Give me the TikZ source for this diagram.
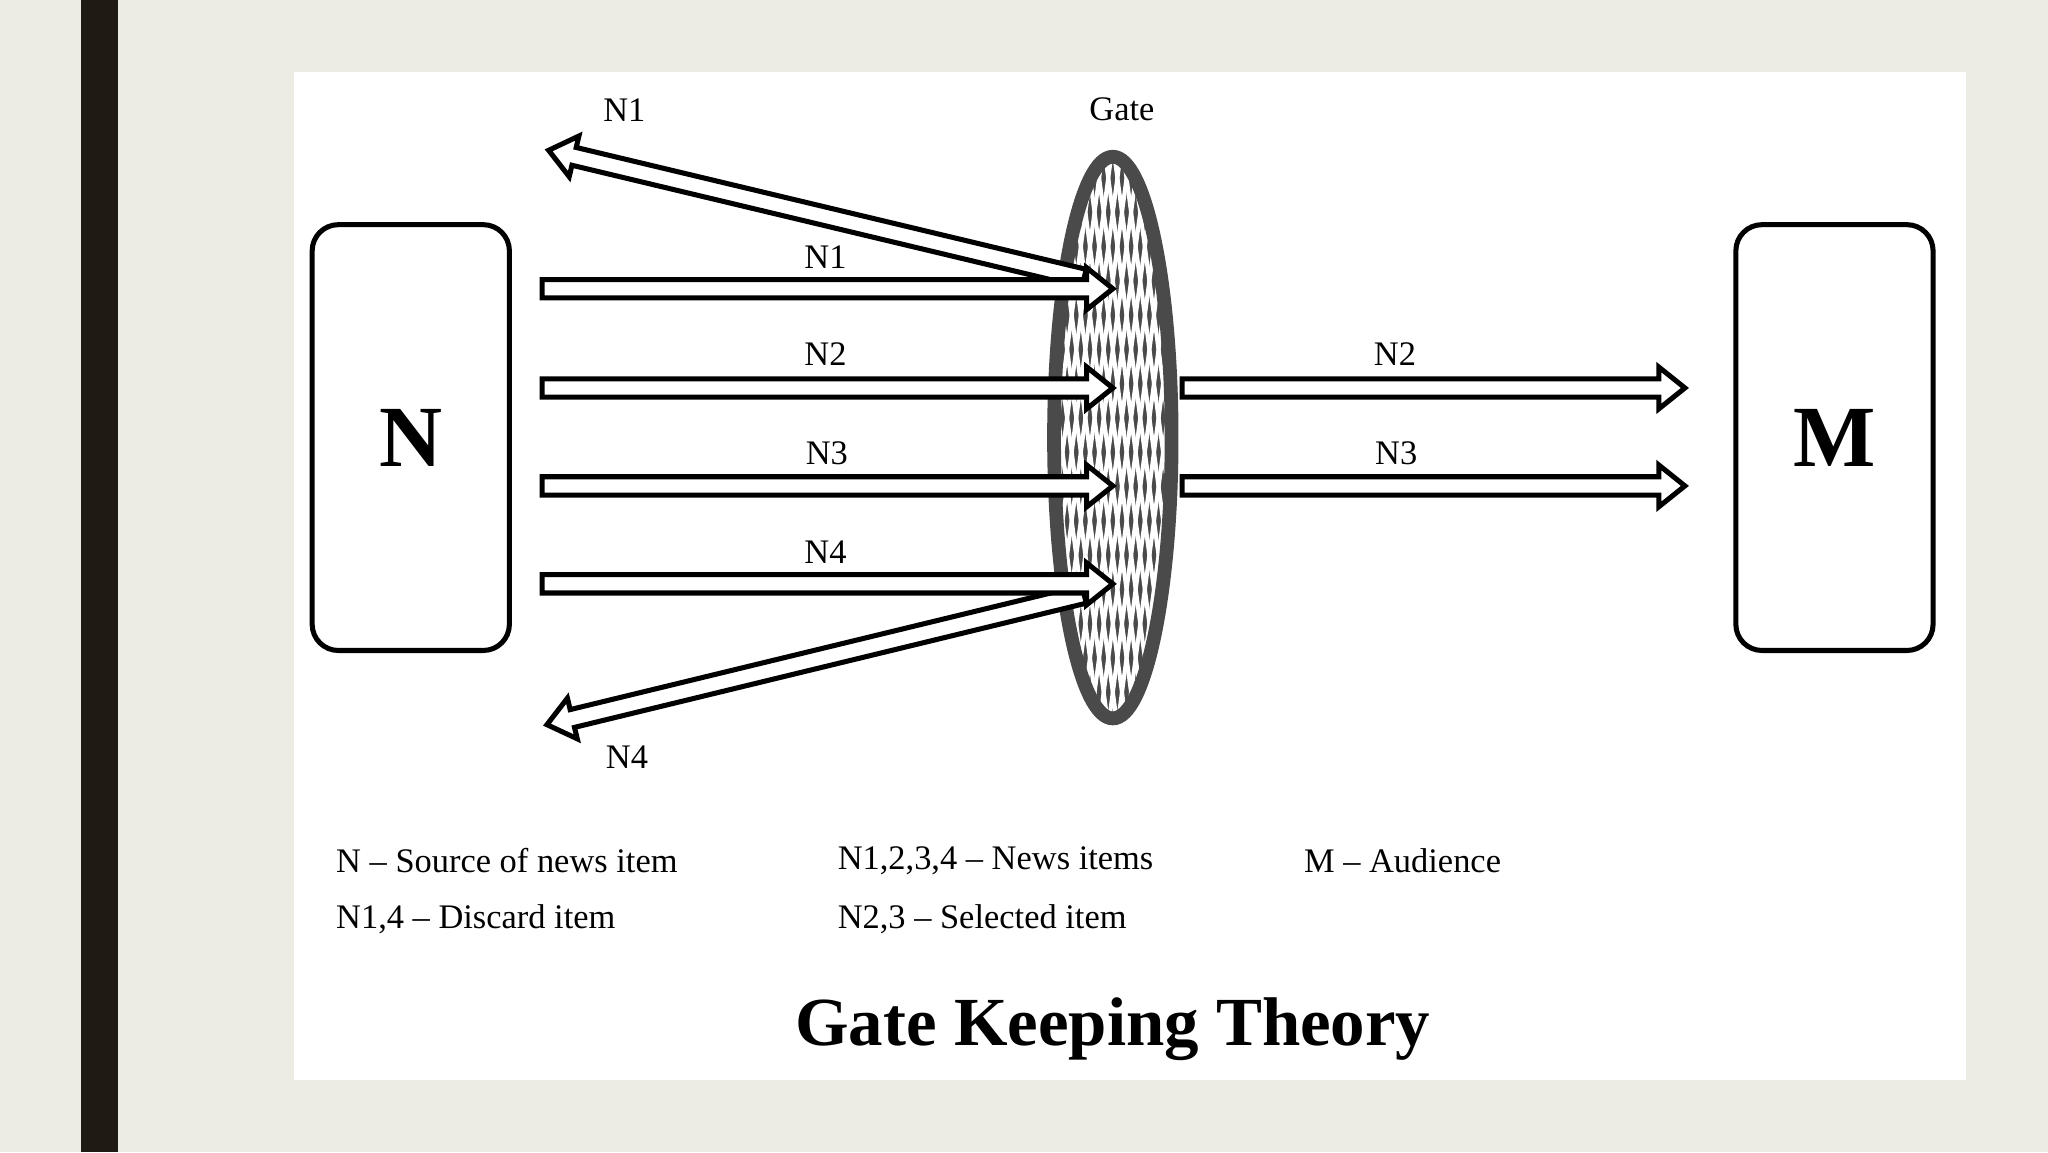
\documentclass[tikz,border=0pt]{standalone}
\usepackage{fontspec}
\setmainfont{Liberation Serif}
\definecolor{bg}{HTML}{ECECE4}
\definecolor{bar}{HTML}{1F1A12}
\definecolor{gatec}{HTML}{4A4A4A}
\tikzset{arr/.style={draw=black,fill=white,line width=1.1pt,line join=miter},
 lbl/.style={font=\fontsize{7.5}{9}\selectfont},
 leg/.style={font=\fontsize{7.5}{9}\selectfont,anchor=west},
 boxst/.style={draw,line width=1.1pt,rounded corners=0.2cm,minimum width=1.51cm,minimum height=3.26cm}}
\newcommand\fatarr[4]{\begin{scope}[shift={(#1)},rotate=#2]
\draw[arr] (0,-.07)--(#3-.2,-.07)--(#3-.2,-.16)--(#3,0)--(#3-.2,.16)--(#3-.2,.07)--(0,.07)--cycle;
\coordinate (#4) at (#3,0);\end{scope}}
\begin{document}
\begin{tikzpicture}[x=1cm,y=-1cm]
\useasboundingbox (0,0) rectangle (15.68,8.82);
\fill[bg] (0,0) rectangle (15.68,8.82);
\fill[bar] (0.62,0) rectangle (0.90,8.82);
\fill[white] (2.25,0.55) rectangle (15.05,8.27);
\node[boxst] (N) at (3.145,3.35) {};
\node[font=\fontsize{19}{20}\selectfont\bfseries] at (N) {N};
\node[boxst] (M) at (14.045,3.35) {};
\node[font=\fontsize{19}{20}\selectfont\bfseries] at (M) {M};
% gate
\begin{scope}
\clip (8.52,3.35) ellipse [x radius=0.45,y radius=2.15];
\fill[gatec] (8.52,3.35) ellipse [x radius=0.45,y radius=2.15];
\foreach \i in {-40,...,40}{
 \draw[white,line width=0.9pt] (8.52+\i*0.07,1.1)--++(0.6,4.5);
 \draw[white,line width=0.9pt] (8.52+\i*0.07,1.1)--++(-0.6,4.5);}
\end{scope}
\draw[gatec,line width=3pt] (8.52,3.35) ellipse [x radius=0.45,y radius=2.15];
\node[lbl] (gate) at (8.59,0.84) {Gate};
% arrows
\fatarr{8.30,2.13}{166.56}{4.215}{d1}
\fatarr{8.30,4.55}{-166.36}{4.232}{d4}
\fatarr{4.15,2.21}{0}{4.37}{a1}
\fatarr{4.15,2.97}{0}{4.37}{a2}
\fatarr{4.15,3.72}{0}{4.37}{a3}
\fatarr{4.15,4.47}{0}{4.37}{a4}
\fatarr{9.05,2.97}{0}{3.85}{b2}
\fatarr{9.05,3.72}{0}{3.85}{b3}
\node[lbl] at (4.78,0.84) {N1};
\node[lbl] at (4.80,5.80) {N4};
\node[lbl] at (6.32,1.97) {N1};
\node[lbl] at (6.32,2.71) {N2};
\node[lbl] at (6.33,3.47) {N3};
\node[lbl] at (6.32,4.23) {N4};
\node[lbl] at (10.68,2.71) {N2};
\node[lbl] at (10.69,3.47) {N3};
% legend
\node[leg] at (2.45,6.59) {N -- Source of news item};
\node[leg] at (6.29,6.59) {N1,2,3,4 -- News items};
\node[leg] at (9.86,6.59) {M -- Audience};
\node[leg] at (2.45,7.04) {N1,4 -- Discard item};
\node[leg] at (6.29,7.04) {N2,3 -- Selected item};
\node[font=\fontsize{15}{17}\selectfont\bfseries] at (8.52,7.88) {Gate Keeping Theory};
\end{tikzpicture}
\end{document}
